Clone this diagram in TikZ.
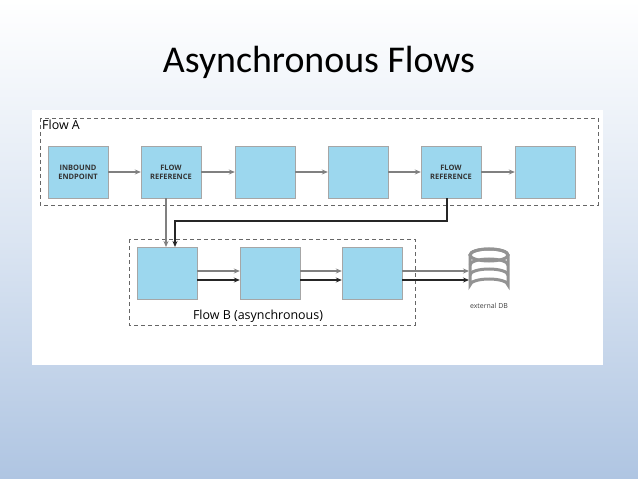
\documentclass[tikz,border=0pt]{standalone}
\usepackage{fontspec}
\setmainfont{Open Sans}
\newfontfamily\titlefont{Carlito}
\usetikzlibrary{arrows.meta}
\begin{document}
\begin{tikzpicture}[x=1bp,y=-1bp,
  blk/.style={draw=gray!70,fill=blockblue,minimum width=60bp,minimum height=52bp,inner sep=0,align=center,font=\fontsize{7.5}{9}\selectfont\bfseries,text=black!80},
  frame/.style={draw=gray!80!black,dashed,dash pattern=on 4bp off 3bp,line width=0.8bp},
  ga/.style={draw=gray,line width=1.1bp,-{Stealth[length=6bp,width=5bp]}},
  ka/.style={draw=black!85,line width=1.4bp,-{Stealth[length=6bp,width=5bp]}}]
\definecolor{blockblue}{HTML}{9CD7EE}
\definecolor{bgbot}{HTML}{AFC5E2}
\useasboundingbox (0,0) rectangle (638,479);
\shade[top color=white,bottom color=bgbot,middle color=white!55!bgbot] (0,0) rectangle (638,479);
\node[font=\titlefont\fontsize{38}{42}\selectfont] (title) at (319,62) {Asynchronous Flows};
\fill[white] (32,110) rectangle (603,365);
\draw[frame] (40,118) rectangle (598,205);
\node[anchor=north west,font=\fontsize{12.5}{14}\selectfont,inner sep=1bp] (fa) at (41,119) {Flow A};
\node[blk] (a1) at (78,172) {INBOUND\\ENDPOINT};
\node[blk] (a2) at (171,172) {FLOW\\REFERENCE};
\node[blk] (a3) at (265,172) {};
\node[blk] (a4) at (358,172) {};
\node[blk] (a5) at (451,172) {FLOW\\REFERENCE};
\node[blk] (a6) at (545,172) {};
\foreach \i/\j in {a1/a2,a2/a3,a3/a4,a4/a5,a5/a6} \draw[ga] (\i) -- (\j);
\draw[frame] (129,239) rectangle (415,325);
\node[font=\fontsize{12.5}{14}\selectfont] (fb) at (258,316) {Flow B (asynchronous)};
\node[blk] (b1) at (167,273) {};
\node[blk] (b2) at (270,273) {};
\node[blk] (b3) at (372,273) {};
\draw[ga] (a2.south -| 166,0) -- (166,247);
\coordinate (c1) at (447,221);
\coordinate (c2) at (175,221);
\draw[ka] (a5.south -| 447,0) -- (c1) -- (c2) -- (175,247);
\foreach \i/\j in {b1/b2,b2/b3} {
  \draw[ga] ([yshift=2bp]\i.east) -- ([yshift=2bp]\j.west);
  \draw[ka] ([yshift=-7bp]\i.east) -- ([yshift=-7bp]\j.west);}
\coordinate (dg) at (469,271);
\coordinate (dk) at (469,280);
\draw[ga] (b3.east |- dg) -- (dg);
\draw[ka] (b3.east |- dk) -- (dk);
% database
\begin{scope}[draw=gray!85,line width=3bp]
\draw (470,255) arc[start angle=180,end angle=360,x radius=19,y radius=6] -- (508,285) arc[start angle=0,end angle=-180,x radius=19,y radius=6] -- cycle;
\draw (489,255) ellipse[x radius=19,y radius=6];
\draw (470,265) arc[start angle=180,end angle=360,x radius=19,y radius=6];
\draw (470,275) arc[start angle=180,end angle=360,x radius=19,y radius=6];
\end{scope}
\node[font=\fontsize{7}{8}\selectfont,text=black!75] (dbl) at (489,306) {external DB};
\end{tikzpicture}
\end{document}
